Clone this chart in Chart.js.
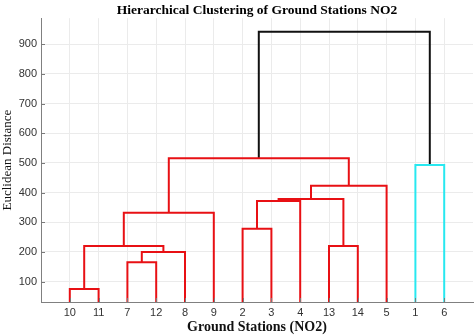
<!DOCTYPE html>
<html>
<head>
<meta charset="utf-8">
<title>Hierarchical Clustering of Ground Stations NO2</title>
<script src="https://cdn.jsdelivr.net/npm/chart.js@4"></script>
<style>
    html, body { margin: 0; padding: 0; background: #fff; }
    #wrap { width: 474px; height: 336px; }
</style>
</head>
<body>
<div id="wrap"><canvas id="dendro" width="474" height="336"></canvas></div>
<script>
/**
 * Dendrograma de estaciones (NO2)
 */

// orden de las hojas en el eje X
const leafOrder = [10, 11, 7, 12, 8, 9, 2, 3, 4, 13, 14, 5, 1, 6];

// enlaces estilo MATLAB: nodos 1..14 son estaciones, 15.. son clusters
const linkA = [10, 7, 16, 15, 13, 2, 18, 20, 22, 23, 1, 21, 26];
const linkB = [11, 12, 8, 17, 14, 3, 9, 4, 19, 5, 6, 24, 25];
const linkHeight = [75, 165, 200, 220, 220, 278, 332, 372, 378, 423, 493, 516, 942];

const yTicks = [100, 200, 300, 400, 500, 600, 700, 800, 900];

const nLeaves = leafOrder.length;
const colorThreshold = 900;

// posicion x y altura de cada nodo
const nodeX = {};
const nodeH = {};
const nodeLeaves = {};
leafOrder.forEach((s, i) => {
    nodeX[s] = i + 1;
    nodeH[s] = 0;
    nodeLeaves[s] = [s];
});

const datasets = [];
linkA.forEach((a, k) => {
    const b = linkB[k];
    const h = linkHeight[k];
    const id = nLeaves + 1 + k;
    nodeX[id] = (nodeX[a] + nodeX[b]) / 2;
    nodeH[id] = h;
    nodeLeaves[id] = nodeLeaves[a].concat(nodeLeaves[b]);

    let color = 'rgb(232, 16, 20)';
    if (h >= colorThreshold) {
        color = '#111111';
    } else if (nodeLeaves[id].includes(1)) {
        color = 'rgb(40, 232, 240)';
    }

    datasets.push({
        data: [
            { x: nodeX[a], y: nodeH[a] },
            { x: nodeX[a], y: h },
            { x: nodeX[b], y: h },
            { x: nodeX[b], y: nodeH[b] }
        ],
        showLine: true,
        borderColor: color,
        borderWidth: 2,
        pointRadius: 0,
        fill: false,
        tension: 0,
        clip: 0
    });
});

// marcas de tick hacia adentro (como MATLAB)
const innerTicks = {
    id: 'innerTicks',
    afterDraw(chart) {
        const { ctx, chartArea, scales } = chart;
        ctx.save();
        ctx.strokeStyle = '#7a7a7a';
        ctx.lineWidth = 1;
        ctx.beginPath();
        scales.y.ticks.forEach(t => {
            const py = Math.round(scales.y.getPixelForValue(t.value)) + 0.5;
            ctx.moveTo(chartArea.left, py);
            ctx.lineTo(chartArea.left + 4, py);
        });
        scales.x.ticks.forEach(t => {
            const px = Math.round(scales.x.getPixelForValue(t.value)) + 0.5;
            ctx.moveTo(px, chartArea.bottom);
            ctx.lineTo(px, chartArea.bottom - 4);
        });
        ctx.stroke();
        ctx.restore();
    }
};

const ctx = document.getElementById('dendro').getContext('2d');
const chart = new Chart(ctx, {
    type: 'scatter',
    data: { datasets: datasets },
    options: {
        responsive: false,
        animation: false,
        layout: { padding: { top: 0, right: 1, left: 0, bottom: 0 } },
        plugins: {
            legend: { display: false },
            tooltip: { enabled: false },
            title: {
                display: true,
                fullSize: false,
                text: 'Hierarchical Clustering of Ground Stations NO2',
                color: '#000',
                font: { family: 'Liberation Serif', size: 13.5, weight: 'bold' },
                padding: { top: 2, bottom: 0 }
            }
        },
        scales: {
            x: {
                type: 'linear',
                min: 0,
                max: nLeaves + 1,
                afterBuildTicks: (scale) => {
                    scale.ticks = leafOrder.map((s, i) => ({ value: i + 1 }));
                },
                afterFit: (scale) => { scale.height = 34; },
                ticks: {
                    autoSkip: false,
                    maxRotation: 0,
                    padding: 4,
                    color: '#333',
                    font: { family: 'Liberation Sans', size: 11 },
                    callback: (v) => String(leafOrder[v - 1])
                },
                grid: { color: '#ebebeb', drawTicks: false },
                border: { color: '#808080', width: 1 },
                title: {
                    display: true,
                    text: 'Ground Stations (NO2)',
                    color: '#111',
                    font: { family: 'Liberation Serif', size: 14, weight: 'bold' },
                    padding: { top: 0, bottom: 0 }
                }
            },
            y: {
                type: 'linear',
                min: 31,
                max: 988,
                afterBuildTicks: (scale) => {
                    scale.ticks = yTicks.map(v => ({ value: v }));
                },
                afterFit: (scale) => { scale.width = 41; },
                ticks: {
                    padding: 4,
                    color: '#333',
                    font: { family: 'Liberation Sans', size: 11 }
                },
                grid: { color: '#ebebeb', drawTicks: false },
                border: { color: '#808080', width: 1 },
                title: {
                    display: true,
                    text: 'Euclidean Distance',
                    color: '#111',
                    font: { family: 'Liberation Serif', size: 13 },
                    padding: { top: 0, bottom: 0 }
                }
            }
        }
    },
    plugins: [innerTicks]
});
</script>
</body>
</html>
